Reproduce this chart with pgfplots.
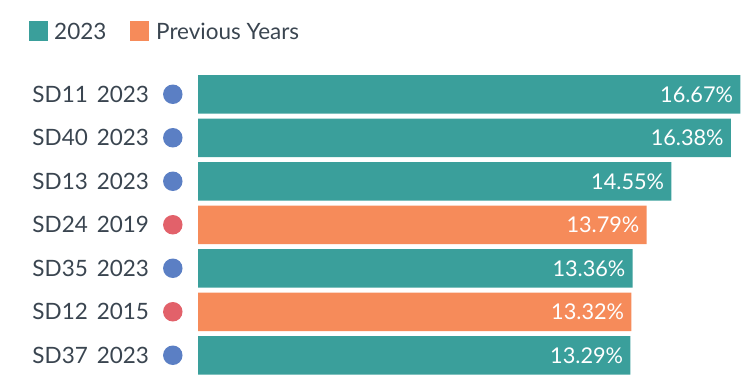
\documentclass[border=0pt]{standalone}
\usepackage{fontspec}
\setmainfont{Lato}
\usepackage{pgfplots}
\pgfplotsset{compat=1.18}
\definecolor{tealA}{HTML}{3A9F9B}
\definecolor{prevO}{HTML}{F68B5A}
\definecolor{dotB}{HTML}{5B7FC4}
\definecolor{dotR}{HTML}{E2616A}
\definecolor{txt}{HTML}{3A4550}
\newcommand{\fs}{\fontsize{22.5bp}{27bp}\selectfont}
\newcommand{\fb}{\fontsize{21.7bp}{26bp}\selectfont}
\newcommand{\bdot}{\tikz[baseline={(0,-8.1bp)}]\fill[dotB] (0,0) circle (9.75bp);}
\newcommand{\rdot}{\tikz[baseline={(0,-8.1bp)}]\fill[dotR] (0,0) circle (9.75bp);}
\pgfplotstableread{
y x
0 16.67
1 16.38
2 14.55
4 13.36
6 13.29
}\tealdata
\pgfplotstableread{
y x
3 13.79
5 13.32
}\prevdata
\begin{document}
\begin{tikzpicture}
\useasboundingbox (0,0) rectangle (750bp,375bp);
\begin{axis}[
  at={(198bp,-2bp)}, anchor=south west,
  scale only axis, width=552bp, height=304.5bp,
  xmin=0, xmax=16.97, ymin=-0.5, ymax=6.5, y dir=reverse,
  axis line style={draw=none}, tick style={draw=none}, major tick length=0pt,
  xtick=\empty, ytick={0,...,6},
  yticklabels={
    SD11\hspace{9bp}2023\hspace{14bp}\bdot,
    SD40\hspace{9bp}2023\hspace{14bp}\bdot,
    SD13\hspace{9bp}2023\hspace{14bp}\bdot,
    SD24\hspace{9bp}2019\hspace{14bp}\rdot,
    SD35\hspace{9bp}2023\hspace{14bp}\bdot,
    SD12\hspace{9bp}2015\hspace{14bp}\rdot,
    SD37\hspace{9bp}2023\hspace{14bp}\bdot},
  yticklabel style={anchor=east, inner sep=0pt, xshift=-15.25bp, font=\fs, text=txt},
  xbar, bar width=38.5bp,
  /pgf/number format/assume math mode=true,
  nodes near coords={\pgfmathprintnumber[fixed,fixed zerofill,precision=2]{\pgfplotspointmeta}\%},
  point meta=x,
  nodes near coords style={anchor=east, inner sep=0pt, xshift=-7bp, text=white, font=\fb},
  clip=false,
]
\addplot[fill=tealA, draw=none, bar shift=0pt] table[x=x,y=y] {\tealdata};
\addplot[fill=prevO, draw=none, bar shift=0pt] table[x=x,y=y] {\prevdata};
\end{axis}
\fill[tealA] (28.5bp,334bp) rectangle (48bp,354bp);
\node[anchor=base west, inner sep=0pt, text=txt, font=\fs] at (54bp,335bp) {2023};
\fill[prevO] (129.5bp,334bp) rectangle (149bp,354bp);
\node[anchor=base west, inner sep=0pt, text=txt, font=\fs] at (156bp,335bp) {Previous Years};
\end{tikzpicture}
\end{document}
